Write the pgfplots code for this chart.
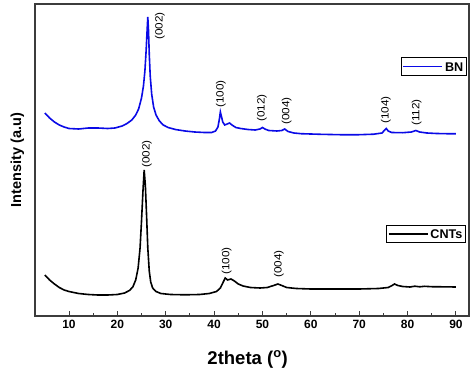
\documentclass[border=0pt]{standalone}
\usepackage{pgfplots}
\pgfplotsset{compat=1.18}
\usepackage{fontspec}
\setmainfont{Liberation Sans}
\definecolor{bnblue}{RGB}{10,10,230}
\definecolor{framec}{RGB}{60,60,60}
\pgfplotsset{
  common/.style={
    scale only axis, width=434pt, height=312pt,
    xmin=2.98, xmax=92.7, ymin=0, ymax=312,
    clip=false,
  },
}
\tikzset{
  lbl/.style={rotate=90, anchor=west, inner sep=0pt, font=\fontsize{10.5}{11}\selectfont, xscale=1.12},
}
\begin{document}
\begin{tikzpicture}
\begin{axis}[common,
  axis line style={framec, line width=1.1pt},
  xtick={10,20,...,90}, minor x tick num=1,
  xtick pos=bottom, tick align=inside,
  major tick length=5pt, minor tick length=3pt,
  every tick/.style={framec, line width=0.9pt},
  ytick=\empty,
  /pgf/number format/assume math mode=true,
  xticklabel style={font=\bfseries\fontsize{12}{12}\selectfont, yshift=-1pt},
  xlabel={\textbf{2theta (\textsuperscript{o})}},
  xlabel style={at={(axis description cs:0.49,-0.154)}, anchor=base, font=\bfseries\fontsize{18.5}{19}\selectfont},
  ylabel={\textbf{Intensity (a.u)}},
  ylabel style={at={(axis description cs:-0.032,0.5)}, anchor=base, font=\bfseries\fontsize{14.5}{15}\selectfont},
  legend style={at={(rel axis cs:0.995,0.83)}, anchor=north east, draw=black, line width=1.1pt, inner xsep=1pt, inner ysep=0.5pt, font=\bfseries\fontsize{12.6}{13}\selectfont, cells={anchor=west, xscale=1.18, text height=11pt, text depth=4.5pt}},
  legend image code/.code={\draw[#1, line width=1.6pt] (0pt,0pt) -- (33pt,0pt);},
]
\addplot[bnblue, line width=1.6pt] coordinates {
(5,203)(6,198)(7,194)(8,191)(9,189)(10,187.5)(12,187)(14,188)(16,188)(18,187.5)(19.5,188)(21,190)(22,192.5)(23,196)(23.8,201)(24.4,207)(25,218)(25.4,230)(25.7,245)(25.95,265)(26.15,285)(26.3,299)(26.45,285)(26.6,262)(26.8,240)(27.1,222)(27.5,209)(28,201)(28.7,195)(29.5,191)(30.5,188.5)(32,186.5)(34,185)(36,184)(38,183.5)(39.5,183.5)(40.3,185)(40.8,189)(41.1,197)(41.3,204)(41.5,200)(41.8,194)(42.2,191)(42.7,192)(43.2,193)(43.7,191)(44.5,188.5)(45.5,187.5)(47,186.5)(48.5,186)(49.5,187)(50,188.5)(50.5,187)(51.3,185.5)(53,185)(54,185.5)(54.6,187)(55.3,184.5)(56.5,183)(58,182.3)(62,181.7)(66,181.3)(70,181.3)(73,181.8)(74.7,183)(75.3,186)(75.6,187.5)(76,185)(76.7,183.5)(79,183.3)(80.8,184)(81.7,185.5)(82.5,184)(84,183)(86,182.5)(88,182.3)(90,182.2)
};
\addlegendentry{BN}
\node[lbl] at (axis cs:28.8,276) {(002)};
\node[lbl] at (axis cs:41.4,208) {(100)};
\node[lbl] at (axis cs:49.9,194) {(012)};
\node[lbl] at (axis cs:55.0,191) {(004)};
\node[lbl] at (axis cs:75.5,192) {(104)};
\node[lbl] at (axis cs:81.9,190) {(112)};
\node[lbl] at (axis cs:26.1,148) {(002)};
\node[lbl] at (axis cs:42.6,41) {(100)};
\node[lbl] at (axis cs:53.4,38) {(004)};
\end{axis}
\begin{axis}[common, hide axis,
  legend style={at={(rel axis cs:0.993,0.292)}, anchor=north east, draw=black, line width=1.1pt, inner xsep=1pt, inner ysep=0.5pt, font=\bfseries\fontsize{12.6}{13}\selectfont, cells={anchor=west, xscale=1.18, text height=11pt, text depth=4.5pt}},
  legend image code/.code={\draw[#1, line width=1.6pt] (0pt,0pt) -- (33pt,0pt);},
]
\addplot[black, line width=1.6pt] coordinates {
(5,41)(6,36)(7,32)(8,28.5)(9,26)(10,24.5)(12,22.5)(14,21.5)(16,21)(18,21)(20,21.5)(21.5,23)(22.5,25.5)(23.2,29)(23.8,36)(24.3,48)(24.7,68)(25,95)(25.3,125)(25.55,146)(25.8,130)(26.05,100)(26.3,68)(26.6,45)(26.9,34)(27.3,28)(28,24.5)(29,22.5)(31,21.5)(34,21.2)(37,21.5)(39,22.5)(40.5,24.5)(41.3,28)(41.8,33)(42.3,38)(42.8,36)(43.5,37)(44.2,35)(45,32)(46,30)(47.5,28.5)(49.5,28)(51,28.5)(52.3,30.5)(53.2,32)(54,30.5)(55,28.5)(57,27.5)(60,27)(65,27)(70,27)(74,27.5)(76,28.5)(76.8,30.5)(77.3,32)(78,30.5)(79,29.5)(80.5,29)(81.5,29.8)(82.5,29.2)(83.5,29.7)(85,29.3)(87,29.2)(90,29)
};
\addlegendentry{CNTs}
\end{axis}
\pgfresetboundingbox
\path[use as bounding box] (-35pt,-59pt) rectangle (439pt,316pt);
\end{tikzpicture}
\end{document}
